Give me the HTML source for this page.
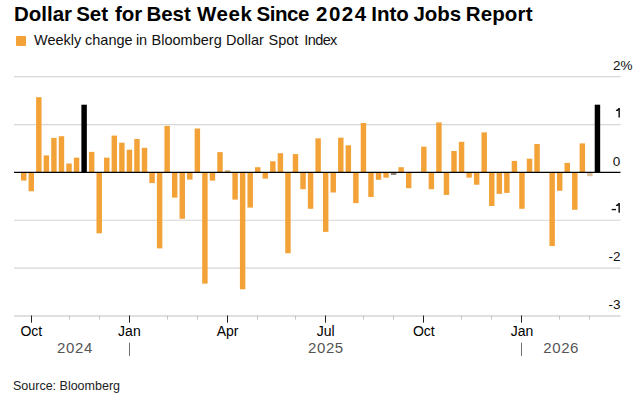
<!DOCTYPE html>
<html><head><meta charset="utf-8"><style>
html,body{margin:0;padding:0;background:#fff;}
body{width:640px;height:402px;position:relative;overflow:hidden;font-family:"Liberation Sans",sans-serif;}
.title{position:absolute;left:0;top:3.5px;font-weight:bold;font-size:20.5px;color:#000;white-space:nowrap;line-height:1;}
.title span,.leg span{position:absolute;top:0;}
.leg{position:absolute;left:0;top:32.5px;font-size:14.5px;color:#111;white-space:nowrap;line-height:1;}
.sq{position:absolute;left:16.1px;top:35.9px;width:9.7px;height:9.7px;background:#f3a238;border-radius:1px;}
.src{position:absolute;left:13px;top:379.5px;font-size:12.5px;color:#222;white-space:nowrap;line-height:1;}
.xl{font-family:"Liberation Sans",sans-serif;font-size:14px;fill:#000;}
.yr{font-family:"Liberation Sans",sans-serif;font-size:15px;fill:#555;letter-spacing:0.6px;}
.yl{font-family:"Liberation Sans",sans-serif;font-size:13.5px;fill:#111;}
</style></head><body>
<svg width="640" height="402" viewBox="0 0 640 402" style="position:absolute;left:0;top:0">
<line x1="14" x2="620.6" y1="76.68" y2="76.68" stroke="#d6d6d6" stroke-width="1.2"/>
<line x1="14" x2="620.6" y1="124.54" y2="124.54" stroke="#d6d6d6" stroke-width="1.2"/>
<line x1="14" x2="620.6" y1="220.26" y2="220.26" stroke="#d6d6d6" stroke-width="1.2"/>
<line x1="14" x2="620.6" y1="268.12" y2="268.12" stroke="#d6d6d6" stroke-width="1.2"/>
<line x1="14" x2="620.6" y1="316" y2="316" stroke="#e0e0e0" stroke-width="2"/>
<rect x="36.10" y="97.20" width="5.45" height="75.20" fill="#f3a238"/>
<rect x="43.65" y="155.40" width="5.45" height="17.00" fill="#f3a238"/>
<rect x="51.20" y="137.90" width="5.45" height="34.50" fill="#f3a238"/>
<rect x="58.75" y="136.20" width="5.45" height="36.20" fill="#f3a238"/>
<rect x="66.29" y="163.50" width="5.45" height="8.90" fill="#f3a238"/>
<rect x="73.84" y="157.60" width="5.45" height="14.80" fill="#f3a238"/>
<rect x="81.39" y="104.70" width="5.45" height="67.70" fill="#000"/>
<rect x="88.94" y="151.90" width="5.45" height="20.50" fill="#f3a238"/>
<rect x="104.04" y="157.60" width="5.45" height="14.80" fill="#f3a238"/>
<rect x="111.59" y="135.60" width="5.45" height="36.80" fill="#f3a238"/>
<rect x="119.14" y="142.70" width="5.45" height="29.70" fill="#f3a238"/>
<rect x="126.69" y="149.70" width="5.45" height="22.70" fill="#f3a238"/>
<rect x="134.24" y="139.00" width="5.45" height="33.40" fill="#f3a238"/>
<rect x="141.78" y="147.80" width="5.45" height="24.60" fill="#f3a238"/>
<rect x="164.43" y="125.90" width="5.45" height="46.50" fill="#f3a238"/>
<rect x="194.63" y="128.50" width="5.45" height="43.90" fill="#f3a238"/>
<rect x="217.27" y="152.10" width="5.45" height="20.30" fill="#f3a238"/>
<rect x="255.02" y="167.20" width="5.45" height="5.20" fill="#f3a238"/>
<rect x="270.12" y="161.30" width="5.45" height="11.10" fill="#f3a238"/>
<rect x="277.67" y="153.20" width="5.45" height="19.20" fill="#f3a238"/>
<rect x="292.76" y="154.10" width="5.45" height="18.30" fill="#f3a238"/>
<rect x="315.41" y="138.30" width="5.45" height="34.10" fill="#f3a238"/>
<rect x="338.06" y="137.70" width="5.45" height="34.70" fill="#f3a238"/>
<rect x="345.61" y="145.30" width="5.45" height="27.10" fill="#f3a238"/>
<rect x="360.71" y="123.00" width="5.45" height="49.40" fill="#f3a238"/>
<rect x="398.45" y="167.20" width="5.45" height="5.20" fill="#f3a238"/>
<rect x="421.10" y="146.70" width="5.45" height="25.70" fill="#f3a238"/>
<rect x="436.19" y="122.40" width="5.45" height="50.00" fill="#f3a238"/>
<rect x="451.29" y="151.00" width="5.45" height="21.40" fill="#f3a238"/>
<rect x="458.84" y="141.80" width="5.45" height="30.60" fill="#f3a238"/>
<rect x="481.49" y="132.40" width="5.45" height="40.00" fill="#f3a238"/>
<rect x="511.69" y="160.90" width="5.45" height="11.50" fill="#f3a238"/>
<rect x="526.78" y="158.70" width="5.45" height="13.70" fill="#f3a238"/>
<rect x="534.33" y="144.00" width="5.45" height="28.40" fill="#f3a238"/>
<rect x="564.53" y="162.90" width="5.45" height="9.50" fill="#f3a238"/>
<rect x="579.63" y="143.40" width="5.45" height="29.00" fill="#f3a238"/>
<rect x="594.72" y="104.70" width="5.45" height="67.70" fill="#000"/>
<rect x="21.00" y="172.40" width="5.45" height="8.20" fill="#f3a238"/>
<rect x="28.55" y="172.40" width="5.45" height="18.90" fill="#f3a238"/>
<rect x="96.49" y="172.40" width="5.45" height="60.90" fill="#f3a238"/>
<rect x="149.33" y="172.40" width="5.45" height="10.70" fill="#f3a238"/>
<rect x="156.88" y="172.40" width="5.45" height="76.00" fill="#f3a238"/>
<rect x="171.98" y="172.40" width="5.45" height="25.20" fill="#f3a238"/>
<rect x="179.53" y="172.40" width="5.45" height="46.40" fill="#f3a238"/>
<rect x="187.08" y="172.40" width="5.45" height="7.20" fill="#f3a238"/>
<rect x="202.18" y="172.40" width="5.45" height="111.20" fill="#f3a238"/>
<rect x="209.73" y="172.40" width="5.45" height="8.20" fill="#f3a238"/>
<rect x="232.37" y="172.40" width="5.45" height="27.20" fill="#f3a238"/>
<rect x="239.92" y="172.40" width="5.45" height="116.90" fill="#f3a238"/>
<rect x="247.47" y="172.40" width="5.45" height="35.20" fill="#f3a238"/>
<rect x="262.57" y="172.40" width="5.45" height="6.20" fill="#f3a238"/>
<rect x="285.22" y="172.40" width="5.45" height="80.80" fill="#f3a238"/>
<rect x="300.31" y="172.40" width="5.45" height="16.80" fill="#f3a238"/>
<rect x="307.86" y="172.40" width="5.45" height="36.40" fill="#f3a238"/>
<rect x="322.96" y="172.40" width="5.45" height="59.50" fill="#f3a238"/>
<rect x="330.51" y="172.40" width="5.45" height="20.10" fill="#f3a238"/>
<rect x="353.16" y="172.40" width="5.45" height="30.70" fill="#f3a238"/>
<rect x="368.25" y="172.40" width="5.45" height="24.60" fill="#f3a238"/>
<rect x="375.80" y="172.40" width="5.45" height="7.40" fill="#f3a238"/>
<rect x="383.35" y="172.40" width="5.45" height="5.30" fill="#f3a238"/>
<rect x="406.00" y="172.40" width="5.45" height="15.80" fill="#f3a238"/>
<rect x="428.65" y="172.40" width="5.45" height="16.80" fill="#f3a238"/>
<rect x="443.74" y="172.40" width="5.45" height="22.50" fill="#f3a238"/>
<rect x="466.39" y="172.40" width="5.45" height="5.20" fill="#f3a238"/>
<rect x="473.94" y="172.40" width="5.45" height="12.30" fill="#f3a238"/>
<rect x="489.04" y="172.40" width="5.45" height="33.60" fill="#f3a238"/>
<rect x="496.59" y="172.40" width="5.45" height="21.50" fill="#f3a238"/>
<rect x="504.14" y="172.40" width="5.45" height="20.50" fill="#f3a238"/>
<rect x="519.23" y="172.40" width="5.45" height="36.40" fill="#f3a238"/>
<rect x="549.43" y="172.40" width="5.45" height="73.60" fill="#f3a238"/>
<rect x="556.98" y="172.40" width="5.45" height="18.40" fill="#f3a238"/>
<rect x="572.08" y="172.40" width="5.45" height="37.40" fill="#f3a238"/>
<rect x="224.82" y="170.4" width="5.45" height="2.00" fill="#d0a468"/>
<rect x="390.90" y="172.40" width="5.45" height="2.50" fill="#8c7f70"/>
<rect x="587.18" y="172.40" width="5.45" height="3.80" fill="#dcc2a0"/>
<line x1="14" x2="620.5" y1="172.4" y2="172.4" stroke="#000" stroke-width="1.2"/>
<line x1="31.50" x2="31.50" y1="315.5" y2="322.7" stroke="#222" stroke-width="1"/>
<line x1="129.50" x2="129.50" y1="315.5" y2="322.7" stroke="#222" stroke-width="1"/>
<line x1="227.50" x2="227.50" y1="315.5" y2="322.7" stroke="#222" stroke-width="1"/>
<line x1="325.50" x2="325.50" y1="315.5" y2="322.7" stroke="#222" stroke-width="1"/>
<line x1="423.50" x2="423.50" y1="315.5" y2="322.7" stroke="#222" stroke-width="1"/>
<line x1="521.50" x2="521.50" y1="315.5" y2="322.7" stroke="#222" stroke-width="1"/>
<line x1="69.50" x2="69.50" y1="315.5" y2="319.5" stroke="#c4c4c4" stroke-width="1"/>
<line x1="99.50" x2="99.50" y1="315.5" y2="319.5" stroke="#c4c4c4" stroke-width="1"/>
<line x1="167.50" x2="167.50" y1="315.5" y2="319.5" stroke="#c4c4c4" stroke-width="1"/>
<line x1="197.50" x2="197.50" y1="315.5" y2="319.5" stroke="#c4c4c4" stroke-width="1"/>
<line x1="257.50" x2="257.50" y1="315.5" y2="319.5" stroke="#c4c4c4" stroke-width="1"/>
<line x1="295.50" x2="295.50" y1="315.5" y2="319.5" stroke="#c4c4c4" stroke-width="1"/>
<line x1="363.50" x2="363.50" y1="315.5" y2="319.5" stroke="#c4c4c4" stroke-width="1"/>
<line x1="393.50" x2="393.50" y1="315.5" y2="319.5" stroke="#c4c4c4" stroke-width="1"/>
<line x1="461.50" x2="461.50" y1="315.5" y2="319.5" stroke="#c4c4c4" stroke-width="1"/>
<line x1="491.50" x2="491.50" y1="315.5" y2="319.5" stroke="#c4c4c4" stroke-width="1"/>
<line x1="559.50" x2="559.50" y1="315.5" y2="319.5" stroke="#c4c4c4" stroke-width="1"/>
<line x1="589.50" x2="589.50" y1="315.5" y2="319.5" stroke="#c4c4c4" stroke-width="1"/>
<text x="31.27" y="336" text-anchor="middle" class="xl">Oct</text>
<text x="129.41" y="336" text-anchor="middle" class="xl">Jan</text>
<text x="227.55" y="336" text-anchor="middle" class="xl">Apr</text>
<text x="325.69" y="336" text-anchor="middle" class="xl">Jul</text>
<text x="423.82" y="336" text-anchor="middle" class="xl">Oct</text>
<text x="521.96" y="336" text-anchor="middle" class="xl">Jan</text>
<text x="75" y="353" text-anchor="middle" class="yr">2024</text>
<text x="325.9" y="353" text-anchor="middle" class="yr">2025</text>
<text x="561.2" y="353" text-anchor="middle" class="yr">2026</text>
<line x1="129.50" x2="129.50" y1="342.7" y2="355.9" stroke="#707070" stroke-width="1"/>
<line x1="521.50" x2="521.50" y1="342.7" y2="355.9" stroke="#707070" stroke-width="1"/>
<text x="632.4" y="69.88" text-anchor="end" class="yl">2%</text>
<path d="M618.45 108.10 L619.90 108.10 L619.90 117.60 L618.45 117.60 L618.45 110.40 Q617.75 111.00 615.90 111.10 L615.90 109.90 Q617.85 109.80 618.45 108.10 Z" fill="#111"/>
<text x="620.3" y="165.60" text-anchor="end" class="yl">0</text>
<rect x="611.7" y="208.9" width="4.3" height="1.35" fill="#111"/>
<path d="M618.45 203.10 L619.90 203.10 L619.90 212.70 L618.45 212.70 L618.45 205.40 Q617.75 206.00 615.90 206.10 L615.90 204.90 Q617.85 204.80 618.45 203.10 Z" fill="#111"/>
<text x="620.5" y="260.92" text-anchor="end" class="yl">-2</text>
<text x="620.5" y="308.8" text-anchor="end" class="yl">-3</text>
</svg>
<div class="title"><span style="left:14.0px">Dollar</span><span style="left:76.2px">Set</span><span style="left:114.9px">for</span><span style="left:146.4px">Best</span><span style="left:196.9px;letter-spacing:0.6px">Week</span><span style="left:256.4px;letter-spacing:-0.4px">Since</span><span style="left:316.1px;letter-spacing:1.45px">2024</span><span style="left:371.2px">Into</span><span style="left:413.4px">Jobs</span><span style="left:465.7px;letter-spacing:0.15px">Report</span></div>
<div class="sq"></div>
<div class="leg"><span style="left:34.05px">Weekly</span><span style="left:85.00px">change</span><span style="left:135.90px">in</span><span style="left:151.60px">Bloomberg</span><span style="left:226.05px">Dollar</span><span style="left:268.56px">Spot</span><span style="left:304.30px;letter-spacing:-0.6px">Index</span></div>
<div class="src">Source: Bloomberg</div>
</body></html>
